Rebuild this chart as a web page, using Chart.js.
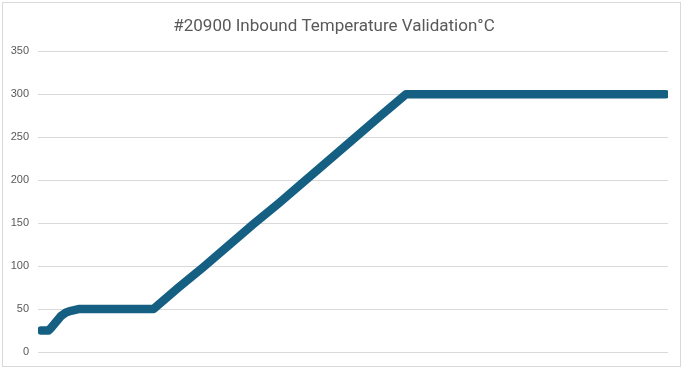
<!DOCTYPE html>
<html>
<head>
<meta charset="utf-8">
<script src="https://cdn.jsdelivr.net/npm/chart.js@4/dist/chart.umd.min.js"></script>
<style>
  html, body { margin: 0; padding: 0; background: #fff; }
  #wrap { width: 684px; height: 370px; }
</style>
</head>
<body>
<div id="wrap"><canvas id="Chart-temp" width="684" height="370"></canvas></div>
<script>
// readings (minutes from start) and temperature in °C
var minutes = [0, 3, 4, 6, 8, 10, 12, 15, 20, 30, 40, 45, 55, 65, 75, 85, 95, 105, 115, 125, 135, 146, 160, 180, 200, 220, 240, 250];
var temps   = [25, 25, 28, 35, 42, 46, 48, 50, 50, 50, 50, 50, 75, 99, 124, 149, 173, 198, 223, 248, 273, 300, 300, 300, 300, 300, 300, 300];
var yTicks  = [0, 50, 100, 150, 200, 250, 300, 350];

var points = [];
for (var i = 0; i < minutes.length; i++) {
  points.push({ x: minutes[i], y: temps[i] });
}

var borderPlugin = {
  id: 'chartBorder',
  beforeDraw: function (chart) {
    var c = chart.ctx;
    c.save();
    c.fillStyle = '#ffffff';
    c.fillRect(0, 0, chart.width, chart.height);
    c.strokeStyle = '#d9d9d9';
    c.lineWidth = 1;
    c.strokeRect(2.5, 2.5, 678, 364);
    c.restore();
  }
};

var ctx = document.getElementById('Chart-temp').getContext('2d');
var tempChart = new Chart(ctx, {
  type: 'line',
  data: {
    datasets: [{
      label: 'Temperature',
      data: points,
      borderColor: '#156082',
      backgroundColor: '#156082',
      borderWidth: 8.5,
      borderCapStyle: 'round',
      borderJoinStyle: 'round',
      pointRadius: 0,
      tension: 0
    }]
  },
  options: {
    responsive: false,
    animation: false,
    layout: { padding: { top: 17, right: 16, left: 0, bottom: 10 } },
    plugins: {
      legend: { display: false },
      tooltip: { enabled: false },
      title: {
        display: true,
        text: '#20900 Inbound Temperature Validation°C',
        color: '#595959',
        font: { family: 'Roboto', size: 17, weight: 'normal' },
        padding: { top: 0, bottom: 14 }
      }
    },
    scales: {
      x: {
        type: 'linear',
        min: -1.2,
        max: 250.8,
        grid: { display: false },
        border: { display: false },
        ticks: { display: false }
      },
      y: {
        min: 0,
        max: 350,
        afterFit: function (scale) { scale.width = 38; },
        afterBuildTicks: function (scale) {
          scale.ticks = yTicks.map(function (v) { return { value: v }; });
        },
        grid: { color: '#d9d9d9', lineWidth: 1, drawTicks: false },
        border: { display: false },
        ticks: {
          color: '#595959',
          padding: 9,
          font: { family: 'Liberation Sans', size: 11 }
        }
      }
    }
  },
  plugins: [borderPlugin]
});
</script>
</body>
</html>
